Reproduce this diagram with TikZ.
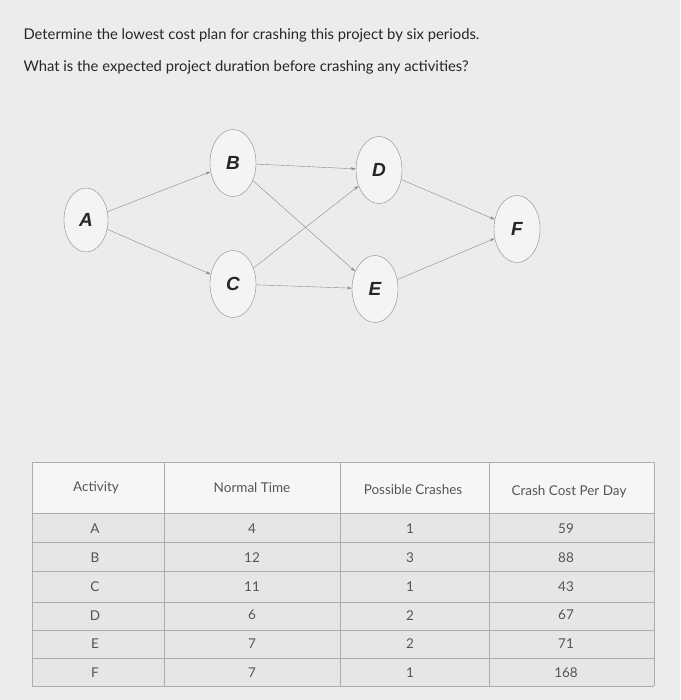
\documentclass[tikz,border=0pt]{standalone}
\usepackage{fontspec}
\setmainfont{Lato}
\usetikzlibrary{shapes.geometric,arrows.meta}
\definecolor{bg}{HTML}{ECECEA}
\definecolor{cellbg}{HTML}{E6E6E4}
\definecolor{ln}{HTML}{8A8A8A}
\definecolor{txt}{HTML}{555555}
\begin{document}
\begin{tikzpicture}[x=1pt,y=-1pt,
  ev/.style={ellipse,draw=ln,fill=bg!60!white,minimum width=46pt,minimum height=67pt,inner sep=0pt,font=\fontspec{Liberation Sans}\bfseries\itshape\fontsize{19}{19}\selectfont,text=black!85},
  arr/.style={draw=ln,-{Stealth[length=5pt,width=3pt]}},
  cell/.style={font=\fontsize{13.5}{13.5}\selectfont,text=txt}]
\fill[bg] (0,0) rectangle (680,700);
\useasboundingbox (0,0) rectangle (680,700);
\node[anchor=west,font=\fontsize{14.8}{14.8}\selectfont,text=black!85] (t1) at (20,35) {Determine the lowest cost plan for crashing this project by six periods.};
\node[anchor=west,font=\fontsize{14.8}{14.8}\selectfont,text=black!85] (t2) at (20,67) {What is the expected project duration before crashing any activities?};
\node[ev,minimum width=44pt,minimum height=64pt] (A) at (86,220) {A};
\node[ev] (B) at (233,163) {B};
\node[ev] (D) at (379,170) {D};
\node[ev] (C) at (233,284) {C};
\node[ev] (E) at (375,289) {E};
\node[ev] (F) at (517,229) {F};
\draw[arr] (A) -- (B);
\draw[arr] (A) -- (C);
\draw[arr] (B) -- (D);
\draw[arr] (B) -- (E);
\draw[arr] (C) -- (D);
\draw[arr] (C) -- (E);
\draw[arr] (D) -- (F);
\draw[arr] (E) -- (F);
% table
\fill[cellbg] (32,462) rectangle (654,686);
\fill[bg!50!white] (32,462) rectangle (654,513);
\foreach \y in {462,513,542,571,602,630,658,686} \draw[ln!70] (32,\y) -- (654,\y);
\foreach \x in {32,164,340,489,654} \draw[ln!70] (\x,462) -- (\x,686);
\node[cell] (h1) at (96,488) {Activity};
\node[cell] (h2) at (252,488) {Normal Time};
\node[cell] (h3) at (413,490) {Possible Crashes};
\node[cell] (h4) at (569,492) {Crash Cost Per Day};
\foreach \a/\n/\p/\c [count=\i] in {A/4/1/59,B/12/3/88,C/11/1/43,D/6/2/67,E/7/2/71,F/7/1/168}{
  \pgfmathsetmacro{\yy}{500+28.8*\i}
  \node[cell] (a\i) at (95,\yy) {\a};
  \node[cell] (n\i) at (252,\yy) {\n};
  \node[cell] (p\i) at (410,\yy) {\p};
  \node[cell] (c\i) at (566,\yy) {\c};
}
\end{tikzpicture}
\end{document}
